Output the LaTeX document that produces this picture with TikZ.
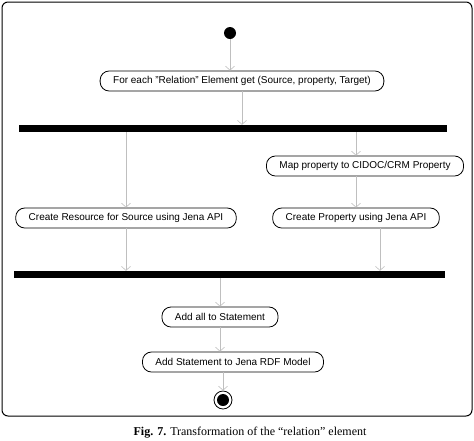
\documentclass[tikz,border=0pt]{standalone}
\usepackage{fontspec}
\setmainfont{Liberation Serif}
\setsansfont{Liberation Sans}
\usetikzlibrary{arrows.meta}

\begin{document}
\begin{tikzpicture} [x=1pt, y=-1pt,
		act/.style = {shape=rectangle, rounded corners=9pt, draw, line width=0.8pt,
			minimum height=20pt, inner xsep=13pt, font=\sffamily\fontsize{10}{11}\selectfont},
		bar/.style = {shape=rectangle, fill=black, minimum height=7pt, inner sep=0pt},
		flow/.style = {draw=gray!50, line width=0.6pt, -{Straight Barb[length=4pt,width=9pt]}}]
	\useasboundingbox (0,0) rectangle (474,440);
	\draw [line width=1pt, rounded corners=6pt] (2,2) rectangle (472,416);
	
	\node (start) [circle, fill=black, minimum size=12pt, inner sep=0pt] at (230,33) {};
	\node (each) [act] at (242,81) {For each \symbol{34}Relation\symbol{34} Element get (Source, property, Target)};
	\node (fork) [bar, minimum width=428pt] at (233,128.5) {};
	\node (map) [act] at (365,166) {Map property to CIDOC/CRM Property};
	\node (res) [act] at (126,218) {Create Resource for Source using Jena API};
	\node (prop) [act] at (356,218) {Create Property using Jena API};
	\node (join) [bar, minimum width=431pt] at (229.5,274.5) {};
	\node (addall) [act] at (220,317) {Add all to Statement};
	\node (addst) [act] at (233,362) {Add Statement to Jena RDF Model};
	\node (stop) [circle, draw, line width=0.8pt, minimum size=18pt, inner sep=0pt] at (223,400) {};
	\node (stopdot) [circle, fill=black, minimum size=12pt, inner sep=0pt] at (stop) {};
	
	\path [flow] (start) -- (start |- each.north);
	\path [flow] (each) -- (each |- fork.north);
	\path [flow] (fork.south -| res) -- (res);
	\path [flow] (fork.south -| prop) -- (map.north -| prop);
	\path [flow] (map.south -| prop) -- (prop);
	\path [flow] (res) -- (res |- join.north);
	\path [flow] ([xshift=24pt]prop.south) -- ([xshift=24pt]prop.south |- join.north);
	\path [flow] (join.south -| addall) -- (addall);
	\path [flow] (addall) -- (addall |- addst.north);
	\path [flow] (stop |- addst.south) -- (stop);
	
	\node (caption) [font=\fontsize{12}{14}\selectfont] at (250,433)
		{\textbf{Fig. 7.} Transformation of the “relation” element};
\end{tikzpicture}
\end{document}
